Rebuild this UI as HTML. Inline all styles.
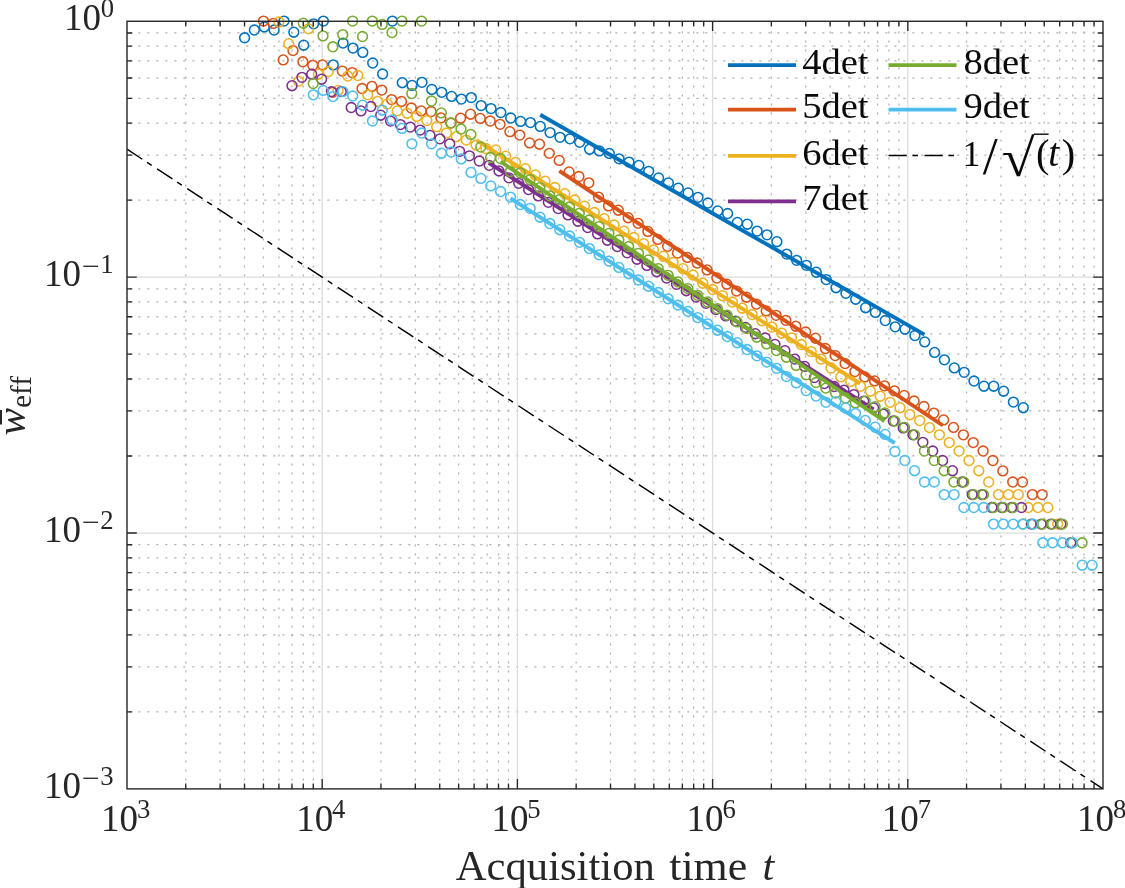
<!DOCTYPE html>
<html><head><meta charset="utf-8"><title>w_eff vs acquisition time</title>
<style>html,body{margin:0;padding:0;background:#fff}svg{display:block}</style></head>
<body>
<svg width="1125" height="888" viewBox="0 0 1125 888">
<rect width="1125" height="888" fill="#fff"/>
<g stroke="#b0b0b0" stroke-width="1.25" stroke-dasharray="2.1 6.9" fill="none">
<path d="M185.76 789.58V21.28"/>
<path d="M220.13 789.58V21.28"/>
<path d="M244.52 789.58V21.28"/>
<path d="M263.44 789.58V21.28"/>
<path d="M278.90 789.58V21.28"/>
<path d="M291.96 789.58V21.28"/>
<path d="M303.28 789.58V21.28"/>
<path d="M313.27 789.58V21.28"/>
<path d="M380.96 789.58V21.28"/>
<path d="M415.33 789.58V21.28"/>
<path d="M439.72 789.58V21.28"/>
<path d="M458.64 789.58V21.28"/>
<path d="M474.10 789.58V21.28"/>
<path d="M487.16 789.58V21.28"/>
<path d="M498.48 789.58V21.28"/>
<path d="M508.47 789.58V21.28"/>
<path d="M576.16 789.58V21.28"/>
<path d="M610.53 789.58V21.28"/>
<path d="M634.92 789.58V21.28"/>
<path d="M653.84 789.58V21.28"/>
<path d="M669.30 789.58V21.28"/>
<path d="M682.36 789.58V21.28"/>
<path d="M693.68 789.58V21.28"/>
<path d="M703.67 789.58V21.28"/>
<path d="M771.36 789.58V21.28"/>
<path d="M805.73 789.58V21.28"/>
<path d="M830.12 789.58V21.28"/>
<path d="M849.04 789.58V21.28"/>
<path d="M864.50 789.58V21.28"/>
<path d="M877.56 789.58V21.28"/>
<path d="M888.88 789.58V21.28"/>
<path d="M898.87 789.58V21.28"/>
<path d="M966.56 789.58V21.28"/>
<path d="M1000.93 789.58V21.28"/>
<path d="M1025.32 789.58V21.28"/>
<path d="M1044.24 789.58V21.28"/>
<path d="M1059.70 789.58V21.28"/>
<path d="M1072.76 789.58V21.28"/>
<path d="M1084.08 789.58V21.28"/>
<path d="M1094.07 789.58V21.28"/>
<path d="M129.3 711.86H1103.0"/>
<path d="M129.3 666.80H1103.0"/>
<path d="M129.3 634.83H1103.0"/>
<path d="M129.3 610.04H1103.0"/>
<path d="M129.3 589.78H1103.0"/>
<path d="M129.3 572.65H1103.0"/>
<path d="M129.3 557.81H1103.0"/>
<path d="M129.3 544.72H1103.0"/>
<path d="M129.3 455.99H1103.0"/>
<path d="M129.3 410.93H1103.0"/>
<path d="M129.3 378.97H1103.0"/>
<path d="M129.3 354.17H1103.0"/>
<path d="M129.3 333.91H1103.0"/>
<path d="M129.3 316.78H1103.0"/>
<path d="M129.3 301.94H1103.0"/>
<path d="M129.3 288.85H1103.0"/>
<path d="M129.3 200.12H1103.0"/>
<path d="M129.3 155.07H1103.0"/>
<path d="M129.3 123.10H1103.0"/>
<path d="M129.3 98.30H1103.0"/>
<path d="M129.3 78.04H1103.0"/>
<path d="M129.3 60.91H1103.0"/>
<path d="M129.3 46.08H1103.0"/>
<path d="M129.3 32.99H1103.0"/>
</g>
<g stroke="#dbdbdb" stroke-width="1.25" fill="none">
<path d="M322.20 788.88V21.28"/>
<path d="M517.40 788.88V21.28"/>
<path d="M712.60 788.88V21.28"/>
<path d="M907.80 788.88V21.28"/>
<path d="M127.0 277.15H1103.0"/>
<path d="M127.0 533.01H1103.0"/>
</g>
<path d="M127.0 149.21L1103.0 788.88" stroke="#000" stroke-width="1.45" stroke-dasharray="18.3 5.7 5.5 6.5" fill="none" clip-path="url(#cp)"/>
<defs><clipPath id="cp"><rect x="127.0" y="21.28" width="976.0" height="767.6"/></clipPath></defs>
<g fill="none" stroke="#0072BD" stroke-width="1.55">
<circle cx="244.6" cy="37.8" r="4.9"/>
<circle cx="254.4" cy="30.0" r="4.9"/>
<circle cx="264.3" cy="26.9" r="4.9"/>
<circle cx="274.1" cy="30.0" r="4.9"/>
<circle cx="284.0" cy="21.1" r="4.9"/>
<circle cx="293.8" cy="32.2" r="4.9"/>
<circle cx="303.7" cy="45.2" r="4.9"/>
<circle cx="313.6" cy="23.8" r="4.9"/>
<circle cx="323.4" cy="21.1" r="4.9"/>
<circle cx="333.3" cy="64.9" r="4.9"/>
<circle cx="343.1" cy="43.1" r="4.9"/>
<circle cx="353.0" cy="48.1" r="4.9"/>
<circle cx="362.8" cy="52.4" r="4.9"/>
<circle cx="372.7" cy="63.0" r="4.9"/>
<circle cx="382.6" cy="74.0" r="4.9"/>
<circle cx="392.4" cy="21.1" r="4.9"/>
<circle cx="402.3" cy="82.7" r="4.9"/>
<circle cx="412.1" cy="85.4" r="4.9"/>
<circle cx="422.0" cy="82.3" r="4.9"/>
<circle cx="431.8" cy="89.4" r="4.9"/>
<circle cx="441.7" cy="92.3" r="4.9"/>
<circle cx="451.6" cy="96.4" r="4.9"/>
<circle cx="461.4" cy="99.1" r="4.9"/>
<circle cx="471.3" cy="97.6" r="4.9"/>
<circle cx="481.1" cy="105.6" r="4.9"/>
<circle cx="491.0" cy="108.6" r="4.9"/>
<circle cx="500.8" cy="112.5" r="4.9"/>
<circle cx="510.7" cy="118.0" r="4.9"/>
<circle cx="520.6" cy="121.4" r="4.9"/>
<circle cx="530.4" cy="122.6" r="4.9"/>
<circle cx="540.3" cy="126.4" r="4.9"/>
<circle cx="550.1" cy="132.6" r="4.9"/>
<circle cx="560.0" cy="137.3" r="4.9"/>
<circle cx="569.9" cy="138.8" r="4.9"/>
<circle cx="579.7" cy="142.3" r="4.9"/>
<circle cx="589.6" cy="149.2" r="4.9"/>
<circle cx="599.4" cy="150.9" r="4.9"/>
<circle cx="609.3" cy="153.4" r="4.9"/>
<circle cx="619.1" cy="158.8" r="4.9"/>
<circle cx="629.0" cy="162.1" r="4.9"/>
<circle cx="638.9" cy="165.4" r="4.9"/>
<circle cx="648.7" cy="171.3" r="4.9"/>
<circle cx="658.6" cy="177.9" r="4.9"/>
<circle cx="668.4" cy="182.9" r="4.9"/>
<circle cx="678.3" cy="188.2" r="4.9"/>
<circle cx="688.1" cy="192.9" r="4.9"/>
<circle cx="698.0" cy="197.3" r="4.9"/>
<circle cx="707.9" cy="203.0" r="4.9"/>
<circle cx="717.7" cy="210.9" r="4.9"/>
<circle cx="727.6" cy="213.5" r="4.9"/>
<circle cx="737.4" cy="222.4" r="4.9"/>
<circle cx="747.3" cy="224.2" r="4.9"/>
<circle cx="757.1" cy="231.1" r="4.9"/>
<circle cx="767.0" cy="234.8" r="4.9"/>
<circle cx="776.9" cy="241.7" r="4.9"/>
<circle cx="786.7" cy="254.1" r="4.9"/>
<circle cx="796.6" cy="260.3" r="4.9"/>
<circle cx="806.4" cy="265.3" r="4.9"/>
<circle cx="816.3" cy="272.2" r="4.9"/>
<circle cx="826.2" cy="279.6" r="4.9"/>
<circle cx="836.0" cy="287.7" r="4.9"/>
<circle cx="845.9" cy="293.3" r="4.9"/>
<circle cx="855.7" cy="299.2" r="4.9"/>
<circle cx="865.6" cy="307.7" r="4.9"/>
<circle cx="875.4" cy="312.4" r="4.9"/>
<circle cx="885.3" cy="320.5" r="4.9"/>
<circle cx="895.2" cy="326.8" r="4.9"/>
<circle cx="905.0" cy="329.2" r="4.9"/>
<circle cx="914.9" cy="335.5" r="4.9"/>
<circle cx="924.7" cy="341.9" r="4.9"/>
<circle cx="934.6" cy="352.4" r="4.9"/>
<circle cx="944.4" cy="359.8" r="4.9"/>
<circle cx="954.3" cy="367.9" r="4.9"/>
<circle cx="964.2" cy="372.3" r="4.9"/>
<circle cx="974.0" cy="381.0" r="4.9"/>
<circle cx="983.9" cy="386.2" r="4.9"/>
<circle cx="993.7" cy="386.2" r="4.9"/>
<circle cx="1003.6" cy="391.2" r="4.9"/>
<circle cx="1013.4" cy="402.1" r="4.9"/>
<circle cx="1023.3" cy="407.7" r="4.9"/>
</g>
<path d="M540.2 114.7L924.5 334.6" stroke="#0072BD" stroke-width="3.9" fill="none"/>
<g fill="none" stroke="#D95319" stroke-width="1.55">
<circle cx="263.5" cy="21.1" r="4.9"/>
<circle cx="273.3" cy="23.4" r="4.9"/>
<circle cx="283.2" cy="59.9" r="4.9"/>
<circle cx="293.0" cy="50.6" r="4.9"/>
<circle cx="302.9" cy="61.8" r="4.9"/>
<circle cx="312.8" cy="65.3" r="4.9"/>
<circle cx="322.6" cy="64.9" r="4.9"/>
<circle cx="332.5" cy="92.3" r="4.9"/>
<circle cx="342.3" cy="71.1" r="4.9"/>
<circle cx="352.2" cy="72.6" r="4.9"/>
<circle cx="362.0" cy="88.5" r="4.9"/>
<circle cx="371.9" cy="86.4" r="4.9"/>
<circle cx="381.8" cy="90.1" r="4.9"/>
<circle cx="391.6" cy="99.6" r="4.9"/>
<circle cx="401.5" cy="101.4" r="4.9"/>
<circle cx="411.3" cy="108.0" r="4.9"/>
<circle cx="421.2" cy="110.9" r="4.9"/>
<circle cx="431.1" cy="111.5" r="4.9"/>
<circle cx="440.9" cy="117.9" r="4.9"/>
<circle cx="450.8" cy="123.0" r="4.9"/>
<circle cx="460.6" cy="118.2" r="4.9"/>
<circle cx="470.5" cy="114.2" r="4.9"/>
<circle cx="480.3" cy="118.4" r="4.9"/>
<circle cx="490.2" cy="121.0" r="4.9"/>
<circle cx="500.1" cy="124.3" r="4.9"/>
<circle cx="509.9" cy="131.7" r="4.9"/>
<circle cx="519.8" cy="135.1" r="4.9"/>
<circle cx="529.6" cy="142.9" r="4.9"/>
<circle cx="539.5" cy="144.2" r="4.9"/>
<circle cx="549.3" cy="153.3" r="4.9"/>
<circle cx="559.2" cy="160.4" r="4.9"/>
<circle cx="569.1" cy="171.9" r="4.9"/>
<circle cx="578.9" cy="176.5" r="4.9"/>
<circle cx="588.8" cy="182.8" r="4.9"/>
<circle cx="598.6" cy="197.2" r="4.9"/>
<circle cx="608.5" cy="205.9" r="4.9"/>
<circle cx="618.3" cy="210.2" r="4.9"/>
<circle cx="628.2" cy="217.7" r="4.9"/>
<circle cx="638.1" cy="223.3" r="4.9"/>
<circle cx="647.9" cy="231.4" r="4.9"/>
<circle cx="657.8" cy="239.4" r="4.9"/>
<circle cx="667.6" cy="246.3" r="4.9"/>
<circle cx="677.5" cy="253.0" r="4.9"/>
<circle cx="687.4" cy="257.4" r="4.9"/>
<circle cx="697.2" cy="263.0" r="4.9"/>
<circle cx="707.1" cy="269.9" r="4.9"/>
<circle cx="716.9" cy="278.0" r="4.9"/>
<circle cx="726.8" cy="284.2" r="4.9"/>
<circle cx="736.6" cy="291.1" r="4.9"/>
<circle cx="746.5" cy="297.2" r="4.9"/>
<circle cx="756.4" cy="304.1" r="4.9"/>
<circle cx="766.2" cy="310.9" r="4.9"/>
<circle cx="776.1" cy="315.3" r="4.9"/>
<circle cx="785.9" cy="320.3" r="4.9"/>
<circle cx="795.8" cy="326.2" r="4.9"/>
<circle cx="805.6" cy="332.0" r="4.9"/>
<circle cx="815.5" cy="338.2" r="4.9"/>
<circle cx="825.4" cy="348.5" r="4.9"/>
<circle cx="835.2" cy="355.6" r="4.9"/>
<circle cx="845.1" cy="363.6" r="4.9"/>
<circle cx="854.9" cy="371.6" r="4.9"/>
<circle cx="864.8" cy="376.9" r="4.9"/>
<circle cx="874.6" cy="380.9" r="4.9"/>
<circle cx="884.5" cy="385.8" r="4.9"/>
<circle cx="894.4" cy="390.8" r="4.9"/>
<circle cx="904.2" cy="395.4" r="4.9"/>
<circle cx="914.1" cy="401.0" r="4.9"/>
<circle cx="923.9" cy="406.5" r="4.9"/>
<circle cx="933.8" cy="413.1" r="4.9"/>
<circle cx="943.6" cy="419.9" r="4.9"/>
<circle cx="953.5" cy="427.4" r="4.9"/>
<circle cx="963.4" cy="434.8" r="4.9"/>
<circle cx="973.2" cy="442.6" r="4.9"/>
<circle cx="983.1" cy="451.0" r="4.9"/>
<circle cx="992.9" cy="460.5" r="4.9"/>
<circle cx="1002.8" cy="470.9" r="4.9"/>
<circle cx="1012.7" cy="482.0" r="4.9"/>
<circle cx="1022.5" cy="482.0" r="4.9"/>
<circle cx="1032.4" cy="494.6" r="4.9"/>
<circle cx="1042.2" cy="494.6" r="4.9"/>
</g>
<path d="M559.3 170.9L942.9 425.5" stroke="#D95319" stroke-width="3.9" fill="none"/>
<g fill="none" stroke="#EDB120" stroke-width="1.55">
<circle cx="278.9" cy="22.0" r="4.9"/>
<circle cx="288.8" cy="43.7" r="4.9"/>
<circle cx="298.6" cy="81.3" r="4.9"/>
<circle cx="308.5" cy="28.8" r="4.9"/>
<circle cx="318.4" cy="74.2" r="4.9"/>
<circle cx="328.2" cy="71.5" r="4.9"/>
<circle cx="338.1" cy="90.4" r="4.9"/>
<circle cx="347.9" cy="76.1" r="4.9"/>
<circle cx="357.8" cy="75.5" r="4.9"/>
<circle cx="367.7" cy="94.8" r="4.9"/>
<circle cx="377.5" cy="101.4" r="4.9"/>
<circle cx="387.4" cy="103.9" r="4.9"/>
<circle cx="397.2" cy="110.9" r="4.9"/>
<circle cx="407.1" cy="113.2" r="4.9"/>
<circle cx="416.9" cy="116.4" r="4.9"/>
<circle cx="426.8" cy="120.6" r="4.9"/>
<circle cx="436.7" cy="126.7" r="4.9"/>
<circle cx="446.5" cy="133.0" r="4.9"/>
<circle cx="456.4" cy="136.7" r="4.9"/>
<circle cx="466.2" cy="140.1" r="4.9"/>
<circle cx="476.1" cy="145.1" r="4.9"/>
<circle cx="485.9" cy="148.5" r="4.9"/>
<circle cx="495.8" cy="149.9" r="4.9"/>
<circle cx="505.7" cy="156.2" r="4.9"/>
<circle cx="515.5" cy="162.4" r="4.9"/>
<circle cx="525.4" cy="168.7" r="4.9"/>
<circle cx="535.2" cy="174.9" r="4.9"/>
<circle cx="545.1" cy="181.2" r="4.9"/>
<circle cx="554.9" cy="187.5" r="4.9"/>
<circle cx="564.8" cy="193.7" r="4.9"/>
<circle cx="574.7" cy="200.0" r="4.9"/>
<circle cx="584.5" cy="206.2" r="4.9"/>
<circle cx="594.4" cy="212.5" r="4.9"/>
<circle cx="604.2" cy="218.7" r="4.9"/>
<circle cx="614.1" cy="225.0" r="4.9"/>
<circle cx="624.0" cy="231.2" r="4.9"/>
<circle cx="633.8" cy="237.5" r="4.9"/>
<circle cx="643.7" cy="243.7" r="4.9"/>
<circle cx="653.5" cy="250.0" r="4.9"/>
<circle cx="663.4" cy="256.2" r="4.9"/>
<circle cx="673.2" cy="262.5" r="4.9"/>
<circle cx="683.1" cy="268.7" r="4.9"/>
<circle cx="693.0" cy="275.0" r="4.9"/>
<circle cx="702.8" cy="283.2" r="4.9"/>
<circle cx="712.7" cy="289.5" r="4.9"/>
<circle cx="722.5" cy="295.7" r="4.9"/>
<circle cx="732.4" cy="302.0" r="4.9"/>
<circle cx="742.2" cy="308.2" r="4.9"/>
<circle cx="752.1" cy="314.5" r="4.9"/>
<circle cx="762.0" cy="320.7" r="4.9"/>
<circle cx="771.8" cy="327.0" r="4.9"/>
<circle cx="781.7" cy="333.2" r="4.9"/>
<circle cx="791.5" cy="337.8" r="4.9"/>
<circle cx="801.4" cy="344.5" r="4.9"/>
<circle cx="811.2" cy="351.6" r="4.9"/>
<circle cx="821.1" cy="359.1" r="4.9"/>
<circle cx="831.0" cy="368.0" r="4.9"/>
<circle cx="840.8" cy="376.9" r="4.9"/>
<circle cx="850.7" cy="381.4" r="4.9"/>
<circle cx="860.5" cy="386.3" r="4.9"/>
<circle cx="870.4" cy="391.2" r="4.9"/>
<circle cx="880.2" cy="396.2" r="4.9"/>
<circle cx="890.1" cy="402.3" r="4.9"/>
<circle cx="900.0" cy="407.7" r="4.9"/>
<circle cx="909.8" cy="414.7" r="4.9"/>
<circle cx="919.7" cy="420.5" r="4.9"/>
<circle cx="929.5" cy="427.6" r="4.9"/>
<circle cx="939.4" cy="434.8" r="4.9"/>
<circle cx="949.3" cy="442.6" r="4.9"/>
<circle cx="959.1" cy="451.0" r="4.9"/>
<circle cx="969.0" cy="460.5" r="4.9"/>
<circle cx="978.8" cy="470.7" r="4.9"/>
<circle cx="988.7" cy="482.0" r="4.9"/>
<circle cx="998.5" cy="494.6" r="4.9"/>
<circle cx="1008.4" cy="494.6" r="4.9"/>
<circle cx="1018.3" cy="494.6" r="4.9"/>
<circle cx="1028.1" cy="507.5" r="4.9"/>
<circle cx="1038.0" cy="507.5" r="4.9"/>
<circle cx="1047.8" cy="507.5" r="4.9"/>
<circle cx="1057.7" cy="524.1" r="4.9"/>
</g>
<path d="M476.8 140.4L860.2 383.5" stroke="#EDB120" stroke-width="3.9" fill="none"/>
<g fill="none" stroke="#7E2F8E" stroke-width="1.55">
<circle cx="292.0" cy="85.7" r="4.9"/>
<circle cx="301.9" cy="77.3" r="4.9"/>
<circle cx="311.7" cy="74.2" r="4.9"/>
<circle cx="321.6" cy="79.2" r="4.9"/>
<circle cx="331.4" cy="91.6" r="4.9"/>
<circle cx="341.3" cy="91.6" r="4.9"/>
<circle cx="351.2" cy="107.5" r="4.9"/>
<circle cx="361.0" cy="110.9" r="4.9"/>
<circle cx="370.9" cy="106.5" r="4.9"/>
<circle cx="380.7" cy="115.2" r="4.9"/>
<circle cx="390.6" cy="121.1" r="4.9"/>
<circle cx="400.4" cy="124.6" r="4.9"/>
<circle cx="410.3" cy="127.1" r="4.9"/>
<circle cx="420.2" cy="130.1" r="4.9"/>
<circle cx="430.0" cy="135.4" r="4.9"/>
<circle cx="439.9" cy="138.8" r="4.9"/>
<circle cx="449.7" cy="143.8" r="4.9"/>
<circle cx="459.6" cy="151.3" r="4.9"/>
<circle cx="469.4" cy="155.8" r="4.9"/>
<circle cx="479.3" cy="161.0" r="4.9"/>
<circle cx="489.2" cy="165.3" r="4.9"/>
<circle cx="499.0" cy="170.9" r="4.9"/>
<circle cx="508.9" cy="177.8" r="4.9"/>
<circle cx="518.7" cy="183.3" r="4.9"/>
<circle cx="528.6" cy="189.6" r="4.9"/>
<circle cx="538.4" cy="195.9" r="4.9"/>
<circle cx="548.3" cy="202.3" r="4.9"/>
<circle cx="558.2" cy="208.6" r="4.9"/>
<circle cx="568.0" cy="214.9" r="4.9"/>
<circle cx="577.9" cy="221.2" r="4.9"/>
<circle cx="587.7" cy="227.5" r="4.9"/>
<circle cx="597.6" cy="233.9" r="4.9"/>
<circle cx="607.4" cy="240.2" r="4.9"/>
<circle cx="617.3" cy="246.5" r="4.9"/>
<circle cx="627.2" cy="252.8" r="4.9"/>
<circle cx="637.0" cy="259.2" r="4.9"/>
<circle cx="646.9" cy="265.4" r="4.9"/>
<circle cx="656.7" cy="271.7" r="4.9"/>
<circle cx="666.6" cy="278.0" r="4.9"/>
<circle cx="676.5" cy="284.3" r="4.9"/>
<circle cx="686.3" cy="290.7" r="4.9"/>
<circle cx="696.2" cy="297.0" r="4.9"/>
<circle cx="706.0" cy="303.3" r="4.9"/>
<circle cx="715.9" cy="309.6" r="4.9"/>
<circle cx="725.7" cy="315.9" r="4.9"/>
<circle cx="735.6" cy="321.1" r="4.9"/>
<circle cx="745.5" cy="327.4" r="4.9"/>
<circle cx="755.3" cy="333.7" r="4.9"/>
<circle cx="765.2" cy="338.0" r="4.9"/>
<circle cx="775.0" cy="344.4" r="4.9"/>
<circle cx="784.9" cy="350.7" r="4.9"/>
<circle cx="794.7" cy="359.1" r="4.9"/>
<circle cx="804.6" cy="366.4" r="4.9"/>
<circle cx="814.5" cy="377.5" r="4.9"/>
<circle cx="824.3" cy="383.5" r="4.9"/>
<circle cx="834.2" cy="386.5" r="4.9"/>
<circle cx="844.0" cy="390.1" r="4.9"/>
<circle cx="853.9" cy="394.6" r="4.9"/>
<circle cx="863.7" cy="401.1" r="4.9"/>
<circle cx="873.6" cy="407.9" r="4.9"/>
<circle cx="883.5" cy="414.1" r="4.9"/>
<circle cx="893.3" cy="421.0" r="4.9"/>
<circle cx="903.2" cy="427.9" r="4.9"/>
<circle cx="913.0" cy="434.8" r="4.9"/>
<circle cx="922.9" cy="442.3" r="4.9"/>
<circle cx="932.7" cy="451.0" r="4.9"/>
<circle cx="942.6" cy="460.5" r="4.9"/>
<circle cx="952.5" cy="470.7" r="4.9"/>
<circle cx="962.3" cy="482.0" r="4.9"/>
<circle cx="972.2" cy="494.6" r="4.9"/>
<circle cx="982.0" cy="494.6" r="4.9"/>
<circle cx="991.9" cy="507.5" r="4.9"/>
<circle cx="1001.8" cy="507.5" r="4.9"/>
<circle cx="1011.6" cy="507.5" r="4.9"/>
<circle cx="1021.5" cy="507.5" r="4.9"/>
<circle cx="1031.3" cy="524.1" r="4.9"/>
<circle cx="1041.2" cy="524.1" r="4.9"/>
<circle cx="1051.0" cy="524.1" r="4.9"/>
<circle cx="1060.9" cy="524.1" r="4.9"/>
<circle cx="1070.8" cy="542.8" r="4.9"/>
</g>
<path d="M488.8 162.8L873.5 409.5" stroke="#7E2F8E" stroke-width="3.9" fill="none"/>
<g fill="none" stroke="#77AC30" stroke-width="1.55">
<circle cx="303.3" cy="23.2" r="4.9"/>
<circle cx="313.2" cy="83.6" r="4.9"/>
<circle cx="323.0" cy="35.9" r="4.9"/>
<circle cx="332.9" cy="46.8" r="4.9"/>
<circle cx="342.8" cy="34.6" r="4.9"/>
<circle cx="352.6" cy="21.1" r="4.9"/>
<circle cx="362.5" cy="36.5" r="4.9"/>
<circle cx="372.3" cy="21.1" r="4.9"/>
<circle cx="382.2" cy="24.4" r="4.9"/>
<circle cx="392.0" cy="32.5" r="4.9"/>
<circle cx="401.9" cy="21.1" r="4.9"/>
<circle cx="411.8" cy="93.5" r="4.9"/>
<circle cx="421.6" cy="21.1" r="4.9"/>
<circle cx="431.5" cy="101.0" r="4.9"/>
<circle cx="441.3" cy="112.9" r="4.9"/>
<circle cx="451.2" cy="123.0" r="4.9"/>
<circle cx="461.0" cy="129.0" r="4.9"/>
<circle cx="470.9" cy="134.4" r="4.9"/>
<circle cx="480.8" cy="147.0" r="4.9"/>
<circle cx="490.6" cy="157.5" r="4.9"/>
<circle cx="500.5" cy="158.5" r="4.9"/>
<circle cx="510.3" cy="171.6" r="4.9"/>
<circle cx="520.2" cy="172.8" r="4.9"/>
<circle cx="530.1" cy="179.6" r="4.9"/>
<circle cx="539.9" cy="187.7" r="4.9"/>
<circle cx="549.8" cy="195.8" r="4.9"/>
<circle cx="559.6" cy="199.6" r="4.9"/>
<circle cx="569.5" cy="207.0" r="4.9"/>
<circle cx="579.3" cy="213.3" r="4.9"/>
<circle cx="589.2" cy="220.0" r="4.9"/>
<circle cx="599.1" cy="226.6" r="4.9"/>
<circle cx="608.9" cy="233.3" r="4.9"/>
<circle cx="618.8" cy="240.0" r="4.9"/>
<circle cx="628.6" cy="246.6" r="4.9"/>
<circle cx="638.5" cy="253.3" r="4.9"/>
<circle cx="648.3" cy="259.9" r="4.9"/>
<circle cx="658.2" cy="268.6" r="4.9"/>
<circle cx="668.1" cy="275.3" r="4.9"/>
<circle cx="677.9" cy="281.9" r="4.9"/>
<circle cx="687.8" cy="288.6" r="4.9"/>
<circle cx="697.6" cy="295.3" r="4.9"/>
<circle cx="707.5" cy="301.9" r="4.9"/>
<circle cx="717.3" cy="308.6" r="4.9"/>
<circle cx="727.2" cy="315.2" r="4.9"/>
<circle cx="737.1" cy="321.9" r="4.9"/>
<circle cx="746.9" cy="328.6" r="4.9"/>
<circle cx="756.8" cy="337.2" r="4.9"/>
<circle cx="766.6" cy="343.9" r="4.9"/>
<circle cx="776.5" cy="350.5" r="4.9"/>
<circle cx="786.4" cy="357.2" r="4.9"/>
<circle cx="796.2" cy="365.4" r="4.9"/>
<circle cx="806.1" cy="374.8" r="4.9"/>
<circle cx="815.9" cy="382.5" r="4.9"/>
<circle cx="825.8" cy="388.1" r="4.9"/>
<circle cx="835.6" cy="393.0" r="4.9"/>
<circle cx="845.5" cy="398.0" r="4.9"/>
<circle cx="855.4" cy="402.9" r="4.9"/>
<circle cx="865.2" cy="401.1" r="4.9"/>
<circle cx="875.1" cy="406.7" r="4.9"/>
<circle cx="884.9" cy="412.9" r="4.9"/>
<circle cx="894.8" cy="421.0" r="4.9"/>
<circle cx="904.6" cy="427.4" r="4.9"/>
<circle cx="914.5" cy="434.8" r="4.9"/>
<circle cx="924.4" cy="451.0" r="4.9"/>
<circle cx="934.2" cy="460.6" r="4.9"/>
<circle cx="944.1" cy="470.7" r="4.9"/>
<circle cx="953.9" cy="482.0" r="4.9"/>
<circle cx="963.8" cy="482.0" r="4.9"/>
<circle cx="973.6" cy="494.6" r="4.9"/>
<circle cx="983.5" cy="494.6" r="4.9"/>
<circle cx="993.4" cy="507.5" r="4.9"/>
<circle cx="1003.2" cy="507.5" r="4.9"/>
<circle cx="1013.1" cy="507.5" r="4.9"/>
<circle cx="1022.9" cy="524.1" r="4.9"/>
<circle cx="1032.8" cy="524.1" r="4.9"/>
<circle cx="1042.6" cy="524.1" r="4.9"/>
<circle cx="1052.5" cy="524.1" r="4.9"/>
<circle cx="1062.4" cy="524.1" r="4.9"/>
<circle cx="1072.2" cy="542.8" r="4.9"/>
<circle cx="1082.1" cy="542.8" r="4.9"/>
</g>
<path d="M500.6 161.6L884.6 421.1" stroke="#77AC30" stroke-width="3.9" fill="none"/>
<g fill="none" stroke="#4DBEEE" stroke-width="1.55">
<circle cx="313.3" cy="94.8" r="4.9"/>
<circle cx="323.2" cy="90.4" r="4.9"/>
<circle cx="333.0" cy="96.6" r="4.9"/>
<circle cx="342.9" cy="91.6" r="4.9"/>
<circle cx="352.7" cy="96.0" r="4.9"/>
<circle cx="362.6" cy="105.2" r="4.9"/>
<circle cx="372.5" cy="121.0" r="4.9"/>
<circle cx="382.3" cy="110.2" r="4.9"/>
<circle cx="392.2" cy="119.9" r="4.9"/>
<circle cx="402.0" cy="128.4" r="4.9"/>
<circle cx="411.9" cy="143.8" r="4.9"/>
<circle cx="421.7" cy="133.0" r="4.9"/>
<circle cx="431.6" cy="143.8" r="4.9"/>
<circle cx="441.5" cy="153.2" r="4.9"/>
<circle cx="451.3" cy="152.0" r="4.9"/>
<circle cx="461.2" cy="158.9" r="4.9"/>
<circle cx="471.0" cy="172.4" r="4.9"/>
<circle cx="480.9" cy="178.4" r="4.9"/>
<circle cx="490.8" cy="185.9" r="4.9"/>
<circle cx="500.6" cy="191.5" r="4.9"/>
<circle cx="510.5" cy="197.1" r="4.9"/>
<circle cx="520.3" cy="204.5" r="4.9"/>
<circle cx="530.2" cy="208.3" r="4.9"/>
<circle cx="540.0" cy="217.2" r="4.9"/>
<circle cx="549.9" cy="223.5" r="4.9"/>
<circle cx="559.8" cy="229.7" r="4.9"/>
<circle cx="569.6" cy="236.0" r="4.9"/>
<circle cx="579.5" cy="242.3" r="4.9"/>
<circle cx="589.3" cy="248.6" r="4.9"/>
<circle cx="599.2" cy="254.8" r="4.9"/>
<circle cx="609.0" cy="261.1" r="4.9"/>
<circle cx="618.9" cy="267.4" r="4.9"/>
<circle cx="628.8" cy="273.7" r="4.9"/>
<circle cx="638.6" cy="280.0" r="4.9"/>
<circle cx="648.5" cy="286.2" r="4.9"/>
<circle cx="658.3" cy="292.5" r="4.9"/>
<circle cx="668.2" cy="298.8" r="4.9"/>
<circle cx="678.0" cy="305.1" r="4.9"/>
<circle cx="687.9" cy="311.3" r="4.9"/>
<circle cx="697.8" cy="317.6" r="4.9"/>
<circle cx="707.6" cy="323.9" r="4.9"/>
<circle cx="717.5" cy="330.2" r="4.9"/>
<circle cx="727.3" cy="336.5" r="4.9"/>
<circle cx="737.2" cy="342.7" r="4.9"/>
<circle cx="747.1" cy="349.5" r="4.9"/>
<circle cx="756.9" cy="355.8" r="4.9"/>
<circle cx="766.8" cy="362.1" r="4.9"/>
<circle cx="776.6" cy="368.3" r="4.9"/>
<circle cx="786.5" cy="376.6" r="4.9"/>
<circle cx="796.3" cy="382.9" r="4.9"/>
<circle cx="806.2" cy="390.5" r="4.9"/>
<circle cx="816.1" cy="396.1" r="4.9"/>
<circle cx="825.9" cy="402.3" r="4.9"/>
<circle cx="835.8" cy="401.7" r="4.9"/>
<circle cx="845.6" cy="407.9" r="4.9"/>
<circle cx="855.5" cy="413.5" r="4.9"/>
<circle cx="865.3" cy="420.4" r="4.9"/>
<circle cx="875.2" cy="427.2" r="4.9"/>
<circle cx="885.1" cy="434.4" r="4.9"/>
<circle cx="894.9" cy="451.5" r="4.9"/>
<circle cx="904.8" cy="460.5" r="4.9"/>
<circle cx="914.6" cy="470.7" r="4.9"/>
<circle cx="924.5" cy="482.0" r="4.9"/>
<circle cx="934.3" cy="482.0" r="4.9"/>
<circle cx="944.2" cy="494.6" r="4.9"/>
<circle cx="954.1" cy="494.6" r="4.9"/>
<circle cx="963.9" cy="507.5" r="4.9"/>
<circle cx="973.8" cy="507.5" r="4.9"/>
<circle cx="983.6" cy="507.5" r="4.9"/>
<circle cx="993.5" cy="524.1" r="4.9"/>
<circle cx="1003.3" cy="524.1" r="4.9"/>
<circle cx="1013.2" cy="524.1" r="4.9"/>
<circle cx="1023.1" cy="524.1" r="4.9"/>
<circle cx="1032.9" cy="524.1" r="4.9"/>
<circle cx="1042.8" cy="542.8" r="4.9"/>
<circle cx="1052.6" cy="542.8" r="4.9"/>
<circle cx="1062.5" cy="542.8" r="4.9"/>
<circle cx="1072.4" cy="542.8" r="4.9"/>
<circle cx="1082.2" cy="565.2" r="4.9"/>
<circle cx="1092.1" cy="565.2" r="4.9"/>
</g>
<path d="M510.4 198.3L894.8 443.1" stroke="#4DBEEE" stroke-width="3.9" fill="none"/>
<g stroke="#262626" stroke-width="1.35" fill="none">
<path d="M185.76 788.88v-5.3M185.76 21.28v5.3"/>
<path d="M220.13 788.88v-5.3M220.13 21.28v5.3"/>
<path d="M244.52 788.88v-5.3M244.52 21.28v5.3"/>
<path d="M263.44 788.88v-5.3M263.44 21.28v5.3"/>
<path d="M278.90 788.88v-5.3M278.90 21.28v5.3"/>
<path d="M291.96 788.88v-5.3M291.96 21.28v5.3"/>
<path d="M303.28 788.88v-5.3M303.28 21.28v5.3"/>
<path d="M313.27 788.88v-5.3M313.27 21.28v5.3"/>
<path d="M322.20 788.88v-9.8M322.20 21.28v9.8"/>
<path d="M380.96 788.88v-5.3M380.96 21.28v5.3"/>
<path d="M415.33 788.88v-5.3M415.33 21.28v5.3"/>
<path d="M439.72 788.88v-5.3M439.72 21.28v5.3"/>
<path d="M458.64 788.88v-5.3M458.64 21.28v5.3"/>
<path d="M474.10 788.88v-5.3M474.10 21.28v5.3"/>
<path d="M487.16 788.88v-5.3M487.16 21.28v5.3"/>
<path d="M498.48 788.88v-5.3M498.48 21.28v5.3"/>
<path d="M508.47 788.88v-5.3M508.47 21.28v5.3"/>
<path d="M517.40 788.88v-9.8M517.40 21.28v9.8"/>
<path d="M576.16 788.88v-5.3M576.16 21.28v5.3"/>
<path d="M610.53 788.88v-5.3M610.53 21.28v5.3"/>
<path d="M634.92 788.88v-5.3M634.92 21.28v5.3"/>
<path d="M653.84 788.88v-5.3M653.84 21.28v5.3"/>
<path d="M669.30 788.88v-5.3M669.30 21.28v5.3"/>
<path d="M682.36 788.88v-5.3M682.36 21.28v5.3"/>
<path d="M693.68 788.88v-5.3M693.68 21.28v5.3"/>
<path d="M703.67 788.88v-5.3M703.67 21.28v5.3"/>
<path d="M712.60 788.88v-9.8M712.60 21.28v9.8"/>
<path d="M771.36 788.88v-5.3M771.36 21.28v5.3"/>
<path d="M805.73 788.88v-5.3M805.73 21.28v5.3"/>
<path d="M830.12 788.88v-5.3M830.12 21.28v5.3"/>
<path d="M849.04 788.88v-5.3M849.04 21.28v5.3"/>
<path d="M864.50 788.88v-5.3M864.50 21.28v5.3"/>
<path d="M877.56 788.88v-5.3M877.56 21.28v5.3"/>
<path d="M888.88 788.88v-5.3M888.88 21.28v5.3"/>
<path d="M898.87 788.88v-5.3M898.87 21.28v5.3"/>
<path d="M907.80 788.88v-9.8M907.80 21.28v9.8"/>
<path d="M966.56 788.88v-5.3M966.56 21.28v5.3"/>
<path d="M1000.93 788.88v-5.3M1000.93 21.28v5.3"/>
<path d="M1025.32 788.88v-5.3M1025.32 21.28v5.3"/>
<path d="M1044.24 788.88v-5.3M1044.24 21.28v5.3"/>
<path d="M1059.70 788.88v-5.3M1059.70 21.28v5.3"/>
<path d="M1072.76 788.88v-5.3M1072.76 21.28v5.3"/>
<path d="M1084.08 788.88v-5.3M1084.08 21.28v5.3"/>
<path d="M1094.07 788.88v-5.3M1094.07 21.28v5.3"/>
<path d="M127.0 711.86h5.3M1103.0 711.86h-5.3"/>
<path d="M127.0 666.80h5.3M1103.0 666.80h-5.3"/>
<path d="M127.0 634.83h5.3M1103.0 634.83h-5.3"/>
<path d="M127.0 610.04h5.3M1103.0 610.04h-5.3"/>
<path d="M127.0 589.78h5.3M1103.0 589.78h-5.3"/>
<path d="M127.0 572.65h5.3M1103.0 572.65h-5.3"/>
<path d="M127.0 557.81h5.3M1103.0 557.81h-5.3"/>
<path d="M127.0 544.72h5.3M1103.0 544.72h-5.3"/>
<path d="M127.0 533.01h9.8M1103.0 533.01h-9.8"/>
<path d="M127.0 455.99h5.3M1103.0 455.99h-5.3"/>
<path d="M127.0 410.93h5.3M1103.0 410.93h-5.3"/>
<path d="M127.0 378.97h5.3M1103.0 378.97h-5.3"/>
<path d="M127.0 354.17h5.3M1103.0 354.17h-5.3"/>
<path d="M127.0 333.91h5.3M1103.0 333.91h-5.3"/>
<path d="M127.0 316.78h5.3M1103.0 316.78h-5.3"/>
<path d="M127.0 301.94h5.3M1103.0 301.94h-5.3"/>
<path d="M127.0 288.85h5.3M1103.0 288.85h-5.3"/>
<path d="M127.0 277.15h9.8M1103.0 277.15h-9.8"/>
<path d="M127.0 200.12h5.3M1103.0 200.12h-5.3"/>
<path d="M127.0 155.07h5.3M1103.0 155.07h-5.3"/>
<path d="M127.0 123.10h5.3M1103.0 123.10h-5.3"/>
<path d="M127.0 98.30h5.3M1103.0 98.30h-5.3"/>
<path d="M127.0 78.04h5.3M1103.0 78.04h-5.3"/>
<path d="M127.0 60.91h5.3M1103.0 60.91h-5.3"/>
<path d="M127.0 46.08h5.3M1103.0 46.08h-5.3"/>
<path d="M127.0 32.99h5.3M1103.0 32.99h-5.3"/>
</g>
<rect x="127.0" y="21.28" width="976.0" height="767.6" fill="none" stroke="#262626" stroke-width="1.4"/>
<g font-family="'Liberation Serif','DejaVu Serif',serif" fill="#262626">
<text x="101.0" y="831.0" font-size="37">10</text>
<text x="136.9" y="818.4" font-size="26.7">3</text>
<text x="296.2" y="831.0" font-size="37">10</text>
<text x="332.1" y="818.4" font-size="26.7">4</text>
<text x="491.4" y="831.0" font-size="37">10</text>
<text x="527.3" y="818.4" font-size="26.7">5</text>
<text x="686.6" y="831.0" font-size="37">10</text>
<text x="722.5" y="818.4" font-size="26.7">6</text>
<text x="881.8" y="831.0" font-size="37">10</text>
<text x="917.7" y="818.4" font-size="26.7">7</text>
<text x="1077.0" y="831.0" font-size="37">10</text>
<text x="1112.9" y="818.4" font-size="26.7">8</text>
<text x="64.0" y="30.2" font-size="37">10</text>
<text x="100.8" y="17.4" font-size="26.7">0</text>
<text x="44.1" y="286.0" font-size="37">10</text>
<text x="81.4" y="274.7" font-size="26.7" textLength="17.9" lengthAdjust="spacingAndGlyphs">−</text>
<text x="100.3" y="273.2" font-size="26.7">1</text>
<text x="44.1" y="541.9" font-size="37">10</text>
<text x="81.4" y="530.6" font-size="26.7" textLength="17.9" lengthAdjust="spacingAndGlyphs">−</text>
<text x="100.3" y="529.1" font-size="26.7">2</text>
<text x="44.1" y="797.8" font-size="37">10</text>
<text x="81.4" y="786.5" font-size="26.7" textLength="17.9" lengthAdjust="spacingAndGlyphs">−</text>
<text x="100.3" y="785.0" font-size="26.7">3</text>
<text x="455.8" y="880" font-size="41.5" textLength="199" lengthAdjust="spacingAndGlyphs">Acquisition</text>
<text x="669.2" y="880" font-size="41.5" textLength="78" lengthAdjust="spacingAndGlyphs">time</text>
<text x="762.5" y="880" font-size="42" font-style="italic">t</text>
<g transform="translate(25.2 434.8) rotate(-90)"><text x="-0.8" y="0" font-size="41.5" font-style="italic">w</text><text x="26.7" y="5.4" font-size="29.5">eff</text><path d="M10.3 -24.2H24.8" stroke="#262626" stroke-width="2"/></g>
</g>
<g font-family="'Liberation Serif','DejaVu Serif',serif" fill="#0a0a0a">
<path d="M728.0 65.2h68" stroke="#0072BD" stroke-width="3.8"/>
<text x="802.2" y="73.9" font-size="35.5" textLength="66.4" lengthAdjust="spacingAndGlyphs">4det</text>
<path d="M728.0 109.6h68" stroke="#D95319" stroke-width="3.8"/>
<text x="802.2" y="118.3" font-size="35.5" textLength="66.4" lengthAdjust="spacingAndGlyphs">5det</text>
<path d="M728.0 155.9h68" stroke="#EDB120" stroke-width="3.8"/>
<text x="802.2" y="164.5" font-size="35.5" textLength="66.4" lengthAdjust="spacingAndGlyphs">6det</text>
<path d="M728.0 201.4h68" stroke="#7E2F8E" stroke-width="3.8"/>
<text x="802.2" y="210.2" font-size="35.5" textLength="66.4" lengthAdjust="spacingAndGlyphs">7det</text>
<path d="M888.5 65.2h68" stroke="#77AC30" stroke-width="3.8"/>
<text x="963.4" y="73.9" font-size="35.5" textLength="66.4" lengthAdjust="spacingAndGlyphs">8det</text>
<path d="M888.5 109.6h68" stroke="#4DBEEE" stroke-width="3.8"/>
<text x="963.4" y="118.3" font-size="35.5" textLength="66.4" lengthAdjust="spacingAndGlyphs">9det</text>
<path d="M888.5 155.4h68" stroke="#000" stroke-width="1.45" stroke-dasharray="18.3 5.7 5.5 6.5"/>
<text x="962.4" y="165.7" font-size="35.7">1</text>
<text x="982.7" y="173.9" font-size="53.7" stroke="none">/</text>
<text transform="translate(1001.8 175.9) scale(1.137 1)" font-size="52.75" stroke="none">√</text>
<path d="M1034 134.2H1048.6" stroke="#0a0a0a" stroke-width="1.4"/>
<text x="1036" y="166.8" font-size="40.4">(</text>
<text x="1048.3" y="165.9" font-size="39" font-style="italic">t</text>
<text x="1061.8" y="166.8" font-size="40.4">)</text>
</g>
</svg>
</body></html>
